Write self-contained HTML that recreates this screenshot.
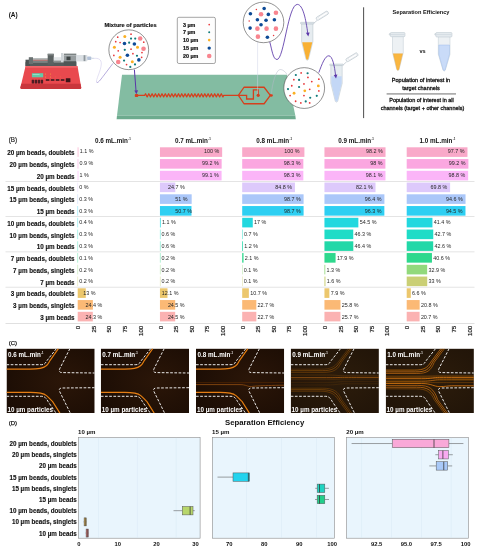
<!DOCTYPE html><html><head><meta charset="utf-8"><title>Figure</title>
<style>html,body{margin:0;padding:0;background:#fff;}body{width:480px;height:550px;overflow:hidden;}svg{display:block;font-family:"Liberation Sans", Arial, sans-serif;}</style></head><body>
<svg width="480" height="550" viewBox="0 0 480 550">
<rect width="480" height="550" fill="#fff"/>
<g id="panelA">
<text x="8.70" y="16.70" font-size="6.5" font-weight="bold" text-anchor="start" fill="#111" >(A)</text>
<polygon points="122.0,74.8 287,74.8 295.3,115.5 117,115.5" fill="#83bca2"/>
<polygon points="117,115.5 295.3,115.5 295.8,119.3 116.6,119.3" fill="#6dab8e"/>
<path d="M136.2,95.3 L144.70,95.3 L145.52,93.7 L147.17,96.9 L148.82,93.7 L150.46,96.9 L152.11,93.7 L153.76,96.9 L155.40,93.7 L157.05,96.9 L158.70,93.7 L160.35,96.9 L161.99,93.7 L163.64,96.9 L165.29,93.7 L166.93,96.9 L168.58,93.7 L170.23,96.9 L171.87,93.7 L173.52,96.9 L175.17,93.7 L176.81,96.9 L178.46,93.7 L180.11,96.9 L181.75,93.7 L183.40,96.9 L185.05,93.7 L186.70,96.9 L188.34,93.7 L189.99,96.9 L191.64,93.7 L193.28,96.9 L194.93,93.7 L196.58,96.9 L198.22,93.7 L199.87,96.9 L201.52,93.7 L203.16,96.9 L204.81,93.7 L206.46,96.9 L208.10,93.7 L209.75,96.9 L211.40,93.7 L213.05,96.9 L214.69,93.7 L216.34,96.9 L217.99,93.7 L219.63,96.9 L221.28,93.7 L222.93,96.9 L223.75,95.3 L238.4,95.3" fill="none" stroke="#d63f1c" stroke-width="1.25" stroke-linejoin="round"/>
<rect x="134.8" y="94.1" width="3.4" height="3" rx="0.8" fill="#d63f1c"/>
<polygon points="238.4,95.3 244,87.25 264.1,87.25 270.3,95.3 264.1,103.75 244,103.75" fill="none" stroke="#d63f1c" stroke-width="1.3" stroke-linejoin="round"/>
<path d="M238.4,95.3 H246.6 V99 H253.4 V89.8 H258.2 V95.3" fill="none" stroke="#d63f1c" stroke-width="1.3"/>
<circle cx="258.2" cy="95.3" r="1.6" fill="#d63f1c"/><circle cx="271.2" cy="95.3" r="1.5" fill="#d63f1c"/>
<g id="pump">
<path d="M26.6,65.8 H76.4 Q77.4,65.8 77.6,66.8 L81.2,87.6 Q81.4,88.9 80.2,88.9 H21.4 Q20.2,88.9 20.4,87.6 L25.4,66.8 Q25.7,65.8 26.6,65.8 Z" fill="#e9494e"/>
<path d="M21.3,83.8 H80.5 L81.2,87.6 Q81.4,88.9 80.2,88.9 H21.4 Q20.2,88.9 20.4,87.6 Z" fill="#c9363c"/>
<path d="M26.6,65.8 H76.4 Q77.4,65.8 77.6,66.8 L77.8,67.8 H25.2 L25.4,66.8 Q25.7,65.8 26.6,65.8 Z" fill="#f0666a"/>
<rect x="25.5" y="62.2" width="50.8" height="3.8" fill="#555c5c"/>
<rect x="25.5" y="59.7" width="4.4" height="6.3" fill="#4c5353"/>
<rect x="28.8" y="57.2" width="4.2" height="6.8" fill="#6a7171"/>
<rect x="33" y="58.3" width="15" height="1.5" fill="#9aa2a2"/>
<rect x="33" y="59.8" width="15" height="1.1" fill="#b06a66"/>
<rect x="33" y="60.9" width="15" height="1.4" fill="#7a8282"/>
<rect x="47.7" y="53.8" width="6.1" height="11" fill="#5b6262"/>
<rect x="47.7" y="53.8" width="6.1" height="1.6" fill="#7f8686"/>
<rect x="53.8" y="57.2" width="9.2" height="3.3" fill="#e3e7e9"/>
<rect x="53.8" y="60.5" width="10" height="1.7" fill="#8a9191"/>
<rect x="63.8" y="55.5" width="12.5" height="10" fill="#4f5656"/>
<rect x="63.8" y="53.6" width="12.5" height="2.4" fill="#7c8383"/>
<rect x="61" y="53" width="2.3" height="9.2" fill="#cfd5d8"/>
<rect x="63.3" y="55" width="24" height="6.3" rx="0.8" fill="#d3d9dd" opacity="0.55"/>
<rect x="76.3" y="55" width="11" height="6.3" rx="0.8" fill="#dbe0e4"/>
<rect x="83.6" y="55.2" width="1.8" height="5.9" fill="#8f979c"/>
<rect x="66.5" y="56.6" width="4" height="3.6" fill="#3d4444"/>
<rect x="87.2" y="56.4" width="4.1" height="3.7" rx="0.8" fill="#b3c2d8"/>
<rect x="91.3" y="57.8" width="2.6" height="0.9" fill="#c6d0df"/>
<rect x="31.9" y="73.2" width="11.3" height="4.1" fill="#63c9a8"/>
<rect x="32.6" y="74" width="7" height="1" fill="#8fe0c4"/>
<rect x="31.70" y="79.8" width="2.4" height="3.6" rx="0.3" fill="#4e1d22"/>
<rect x="34.70" y="79.8" width="2.4" height="3.6" rx="0.3" fill="#4e1d22"/>
<rect x="37.70" y="79.8" width="2.4" height="3.6" rx="0.3" fill="#4e1d22"/>
<rect x="40.70" y="79.8" width="2.4" height="3.6" rx="0.3" fill="#4e1d22"/>
<rect x="45.80" y="78.9" width="3.6" height="2.2" rx="0.3" fill="#5a2328"/>
<rect x="50.80" y="78.9" width="3.6" height="2.2" rx="0.3" fill="#5a2328"/>
<rect x="55.80" y="78.9" width="3.6" height="2.2" rx="0.3" fill="#5a2328"/>
<rect x="60.80" y="78.9" width="3.6" height="2.2" rx="0.3" fill="#5a2328"/>
<rect x="65.8" y="78.2" width="4.6" height="4" rx="0.3" fill="#3e1519"/>
<circle cx="45.4" cy="74" r="0.5" fill="#f7a23e"/>
<circle cx="45.4" cy="76.9" r="0.5" fill="#f7a23e"/>
<circle cx="50.6" cy="74" r="0.5" fill="#f7a23e"/>
<circle cx="50.6" cy="76.9" r="0.5" fill="#f7a23e"/>
<circle cx="55.8" cy="76.9" r="0.4" fill="#f7803e"/>
<circle cx="60.8" cy="76.9" r="0.4" fill="#f7803e"/>
</g>
<path d="M93.8,58.4 C98,58 101.5,59 101.3,64 C101,71 95.5,80 96.6,82.2" fill="none" stroke="#cdc8ea" stroke-width="0.55"/>
<path d="M96.6,82.2 C97.5,83.6 100,80.5 103,76.5 L113,63.3" fill="none" stroke="#8675c6" stroke-width="0.6"/>
<path d="M257.6,42 V94" stroke="#cfd3e6" stroke-width="0.5" fill="none"/>
<path d="M271.4,94.5 C272,84 276,70 280,69.5 C283,69.3 285.5,72 287,74.5" stroke="#b4b8c8" stroke-width="0.5" fill="none"/>
<circle cx="128.75" cy="49.75" r="19.9" fill="#fff" stroke="#4a4a4a" stroke-width="0.6"/>
<circle cx="131.04" cy="34.17" r="0.85" fill="#e8373a"/>
<circle cx="117.71" cy="37.19" r="0.85" fill="#e8373a"/>
<circle cx="115.73" cy="41.67" r="0.85" fill="#e8373a"/>
<circle cx="120.10" cy="42.50" r="0.85" fill="#e8373a"/>
<circle cx="143.75" cy="42.19" r="0.85" fill="#e8373a"/>
<circle cx="118.23" cy="50.83" r="0.85" fill="#e8373a"/>
<circle cx="131.04" cy="49.17" r="0.85" fill="#e8373a"/>
<circle cx="141.98" cy="52.60" r="0.85" fill="#e8373a"/>
<circle cx="132.92" cy="53.65" r="0.85" fill="#e8373a"/>
<circle cx="113.85" cy="55.42" r="0.85" fill="#e8373a"/>
<circle cx="141.67" cy="57.29" r="0.85" fill="#e8373a"/>
<circle cx="126.56" cy="64.58" r="0.85" fill="#e8373a"/>
<circle cx="124.79" cy="36.46" r="1.5" fill="#fbb024"/>
<circle cx="137.50" cy="47.19" r="1.5" fill="#fbb024"/>
<circle cx="114.38" cy="47.19" r="1.5" fill="#fbb024"/>
<circle cx="120.10" cy="57.29" r="1.5" fill="#fbb024"/>
<circle cx="132.29" cy="61.67" r="1.5" fill="#fbb024"/>
<circle cx="131.04" cy="38.54" r="1.1" fill="#117a7a"/>
<circle cx="135.21" cy="38.54" r="1.1" fill="#117a7a"/>
<circle cx="129.17" cy="42.71" r="1.1" fill="#117a7a"/>
<circle cx="124.79" cy="49.79" r="1.1" fill="#117a7a"/>
<circle cx="136.98" cy="55.73" r="1.1" fill="#117a7a"/>
<circle cx="124.06" cy="60.62" r="1.1" fill="#117a7a"/>
<circle cx="135.00" cy="64.38" r="1.1" fill="#117a7a"/>
<circle cx="130.31" cy="66.88" r="1.1" fill="#117a7a"/>
<circle cx="124.48" cy="43.44" r="1.8" fill="#0d4a96"/>
<circle cx="134.38" cy="43.96" r="1.8" fill="#0d4a96"/>
<circle cx="127.40" cy="55.21" r="1.8" fill="#0d4a96"/>
<circle cx="138.85" cy="59.90" r="1.8" fill="#0d4a96"/>
<circle cx="140.21" cy="38.54" r="2.3" fill="#f8858f"/>
<circle cx="143.54" cy="48.75" r="2.3" fill="#f8858f"/>
<circle cx="118.23" cy="61.98" r="2.3" fill="#f8858f"/>
<circle cx="263.5" cy="22.4" r="20.3" fill="#fff" stroke="#4a4a4a" stroke-width="0.6"/>
<circle cx="264.17" cy="8.54" r="1.8" fill="#0d4a96"/>
<circle cx="250.42" cy="13.75" r="1.8" fill="#0d4a96"/>
<circle cx="268.33" cy="14.38" r="1.8" fill="#0d4a96"/>
<circle cx="257.40" cy="19.79" r="1.8" fill="#0d4a96"/>
<circle cx="266.04" cy="20.31" r="1.8" fill="#0d4a96"/>
<circle cx="274.38" cy="19.79" r="1.8" fill="#0d4a96"/>
<circle cx="261.04" cy="24.69" r="1.8" fill="#0d4a96"/>
<circle cx="250.10" cy="28.12" r="1.8" fill="#0d4a96"/>
<circle cx="267.40" cy="37.19" r="1.8" fill="#0d4a96"/>
<circle cx="261.04" cy="14.27" r="2.3" fill="#f8858f"/>
<circle cx="275.94" cy="12.71" r="2.3" fill="#f8858f"/>
<circle cx="257.40" cy="28.65" r="2.3" fill="#f8858f"/>
<circle cx="266.56" cy="28.65" r="2.3" fill="#f8858f"/>
<circle cx="275.94" cy="28.65" r="2.3" fill="#f8858f"/>
<circle cx="257.92" cy="36.67" r="2.3" fill="#f8858f"/>
<circle cx="256.35" cy="9.58" r="0.75" fill="#e8373a"/>
<circle cx="249.17" cy="21.04" r="0.75" fill="#e8373a"/>
<circle cx="273.54" cy="35.62" r="0.75" fill="#e8373a"/>
<circle cx="304.2" cy="88.05" r="20.4" fill="#fff" stroke="#4a4a4a" stroke-width="0.6"/>
<circle cx="301.15" cy="72.94" r="0.9" fill="#e8373a"/>
<circle cx="307.92" cy="77.42" r="0.9" fill="#e8373a"/>
<circle cx="293.85" cy="79.71" r="0.9" fill="#e8373a"/>
<circle cx="318.85" cy="79.19" r="0.9" fill="#e8373a"/>
<circle cx="311.77" cy="81.58" r="0.9" fill="#e8373a"/>
<circle cx="303.96" cy="83.88" r="0.9" fill="#e8373a"/>
<circle cx="291.77" cy="85.75" r="0.9" fill="#e8373a"/>
<circle cx="309.69" cy="89.29" r="0.9" fill="#e8373a"/>
<circle cx="318.85" cy="90.96" r="0.9" fill="#e8373a"/>
<circle cx="290.10" cy="95.54" r="0.9" fill="#e8373a"/>
<circle cx="303.96" cy="95.54" r="0.9" fill="#e8373a"/>
<circle cx="295.62" cy="101.27" r="0.9" fill="#e8373a"/>
<circle cx="300.83" cy="102.94" r="0.9" fill="#e8373a"/>
<circle cx="309.69" cy="102.94" r="0.9" fill="#e8373a"/>
<circle cx="295.83" cy="75.02" r="1.1" fill="#117a7a"/>
<circle cx="307.60" cy="73.25" r="1.1" fill="#117a7a"/>
<circle cx="299.06" cy="79.92" r="1.1" fill="#117a7a"/>
<circle cx="299.06" cy="87.00" r="1.1" fill="#117a7a"/>
<circle cx="288.02" cy="89.08" r="1.1" fill="#117a7a"/>
<circle cx="316.77" cy="95.85" r="1.1" fill="#117a7a"/>
<circle cx="310.21" cy="97.73" r="1.1" fill="#117a7a"/>
<circle cx="305.73" cy="101.38" r="1.1" fill="#117a7a"/>
<circle cx="318.33" cy="85.96" r="1.4" fill="#fbb024"/>
<circle cx="304.79" cy="90.85" r="1.4" fill="#fbb024"/>
<circle cx="294.06" cy="93.25" r="1.4" fill="#fbb024"/>
<text x="130.60" y="26.60" font-size="5.7" font-weight="bold" text-anchor="middle" fill="#111" stroke="#111" stroke-width="0.15">Mixture of particles</text>
<path d="M134.4,69.6 L136.1,92" stroke="#5a36a8" stroke-width="1.0" fill="none"/>
<polygon points="134.3,90.6 138.1,90.3 136.4,94.2" fill="#5a36a8"/>
<rect x="177.3" y="17.3" width="38.1" height="46.2" rx="1.6" fill="#fdfdfd" stroke="#808080" stroke-width="0.7"/>
<text x="183.00" y="26.50" font-size="5.4" font-weight="bold" text-anchor="start" fill="#111" stroke="#111" stroke-width="0.2">3 µm</text>
<circle cx="209.2" cy="24.6" r="0.85" fill="#e8373a"/>
<text x="183.00" y="34.20" font-size="5.4" font-weight="bold" text-anchor="start" fill="#111" stroke="#111" stroke-width="0.2">7 µm</text>
<circle cx="209.2" cy="32.3" r="1.0" fill="#117a7a"/>
<text x="183.00" y="42.00" font-size="5.4" font-weight="bold" text-anchor="start" fill="#111" stroke="#111" stroke-width="0.2">10 µm</text>
<circle cx="209.2" cy="40.1" r="1.3" fill="#fbb024"/>
<text x="183.00" y="50.00" font-size="5.4" font-weight="bold" text-anchor="start" fill="#111" stroke="#111" stroke-width="0.2">15 µm</text>
<circle cx="209.2" cy="48.1" r="1.7" fill="#0d4a96"/>
<text x="183.00" y="57.90" font-size="5.4" font-weight="bold" text-anchor="start" fill="#111" stroke="#111" stroke-width="0.2">20 µm</text>
<circle cx="209.2" cy="56.0" r="2.3" fill="#f8858f"/>
<path d="M301.60,23.80 L301.60,41.60 L306.05,59.50 Q307.25,61.10 308.45,59.50 L312.90,41.60 L312.90,23.80 Z" fill="#e6ecf0" stroke="#b4c0c9" stroke-width="0.5"/>
<path d="M302.23,42.20 L306.25,59.10 Q307.25,60.50 308.25,59.10 L312.27,42.20 Z" fill="#f8b033"/>
<rect x="300.50" y="22.30" width="13.50" height="1.6" rx="0.5" fill="#dfe6ea" stroke="#aab6bf" stroke-width="0.4"/>
<path d="M314,23 L317,20.5" stroke="#aab6bf" stroke-width="0.6" fill="none"/>
<g transform="translate(316.6,19.3) rotate(-32)"><rect x="0" y="-1.7" width="13.5" height="3.4" rx="1.2" fill="#f4f6f8" stroke="#aab6bf" stroke-width="0.5"/><rect x="2.5" y="-1" width="10" height="2" rx="0.9" fill="#fff" stroke="#c4ccd2" stroke-width="0.3"/></g>
<path d="M330.80,65.50 L330.80,83.20 L335.30,101.30 Q336.50,102.90 337.70,101.30 L342.20,83.20 L342.20,65.50 Z" fill="#e6ecf0" stroke="#b4c0c9" stroke-width="0.5"/>
<path d="M331.30,76.20 L331.30,83.20 L335.50,100.90 Q336.50,102.30 337.50,100.90 L341.70,83.20 L341.70,76.20 Z" fill="#c3d7f6"/>
<rect x="329.70" y="64.00" width="13.60" height="1.6" rx="0.5" fill="#dfe6ea" stroke="#aab6bf" stroke-width="0.4"/>
<path d="M343.3,64.8 L346.8,61.6" stroke="#aab6bf" stroke-width="0.6" fill="none"/>
<g transform="translate(346.4,60.6) rotate(-31)"><rect x="0" y="-1.7" width="13" height="3.4" rx="1.2" fill="#f4f6f8" stroke="#aab6bf" stroke-width="0.5"/><rect x="2.5" y="-1" width="9.6" height="2" rx="0.9" fill="#fff" stroke="#c4ccd2" stroke-width="0.3"/></g>
<path d="M269.8,42 C272,50 273,59.5 277,59.5 C284,59.5 288,4.4 297.3,4.4 C303,4.4 306,20 307.8,33.5" fill="none" stroke="#5a36a8" stroke-width="0.85"/>
<polygon points="305.9,32.8 309.6,32.4 308.3,36.4" fill="#5a36a8"/>
<path d="M318.8,72.6 C322,64 325,55.8 328.8,55.8 C332.5,55.8 334.5,66 335.6,75.5" fill="none" stroke="#5a36a8" stroke-width="0.85"/>
<polygon points="333.7,74.9 337.4,74.5 336,78.5" fill="#5a36a8"/>
<rect x="363.2" y="7.3" width="0.9" height="110.8" fill="#3a3a3a"/>
<text x="421.00" y="14.20" font-size="5.6" font-weight="bold" text-anchor="middle" fill="#111" >Separation Efficiency</text>
<path d="M392.50,36.20 L392.50,52.50 L396.80,69.80 Q397.90,71.40 399.00,69.80 L403.30,52.50 L403.30,36.20 Z" fill="#edf1f4" stroke="#bcc8d1" stroke-width="0.5"/>
<path d="M393.26,53.70 L397.00,69.50 Q397.90,70.80 398.80,69.50 L402.54,53.70 Z" fill="#f9b640" stroke="#eaa233" stroke-width="0.4"/>
<rect x="389.20" y="33.50" width="2" height="1.6" rx="0.5" fill="#dfe6ea" stroke="#b4c0c9" stroke-width="0.35"/>
<rect x="390.30" y="32.50" width="14.70" height="4.20" rx="1" fill="#e4eaee" stroke="#b4c0c9" stroke-width="0.45"/>
<rect x="390.90" y="34.10" width="13.50" height="0.5" fill="#c9d3da"/>
<path d="M438.30,36.50 L438.30,54.20 L443.05,70.30 Q444.15,71.90 445.25,70.30 L450.00,54.20 L450.00,36.50 Z" fill="#edf1f4" stroke="#bcc8d1" stroke-width="0.5"/>
<path d="M438.80,45.00 L438.80,54.20 L443.25,70.00 Q444.15,71.30 445.05,70.00 L449.50,54.20 L449.50,45.00 Z" fill="#c9dbf8" stroke="#93b2e8" stroke-width="0.4"/>
<rect x="434.70" y="33.50" width="2" height="1.6" rx="0.5" fill="#dfe6ea" stroke="#b4c0c9" stroke-width="0.35"/>
<rect x="435.80" y="32.50" width="16.20" height="4.50" rx="1" fill="#e4eaee" stroke="#b4c0c9" stroke-width="0.45"/>
<rect x="436.40" y="34.10" width="15.00" height="0.5" fill="#c9d3da"/>
<text x="422.50" y="53.20" font-size="5.6" font-weight="bold" text-anchor="middle" fill="#111" >vs</text>
<text x="421.00" y="82.20" font-size="5.6" font-weight="normal" text-anchor="middle" fill="#111" stroke="#111" stroke-width="0.28">Population of interest in</text>
<text x="421.00" y="90.00" font-size="5.5" font-weight="normal" text-anchor="middle" fill="#111" stroke="#111" stroke-width="0.28">target channels</text>
<rect x="386.6" y="93.6" width="69.4" height="0.7" fill="#333"/>
<text x="421.50" y="102.40" font-size="5.5" font-weight="normal" text-anchor="middle" fill="#111" stroke="#111" stroke-width="0.28">Population of interest in all</text>
<text x="422.50" y="109.50" font-size="5.5" font-weight="normal" text-anchor="middle" fill="#111" stroke="#111" stroke-width="0.28">channels (target + other channels)</text>
</g>
<g id="panelB">
<text x="8.70" y="142.30" font-size="6.3" font-weight="normal" text-anchor="start" fill="#1a1a1a" stroke="#1a1a1a" stroke-width="0.15">(B)</text>
<rect x="5.5" y="181.10" width="469" height="0.6" fill="#d2d2d2"/>
<rect x="5.5" y="216.35" width="469" height="0.6" fill="#d2d2d2"/>
<rect x="5.5" y="251.60" width="469" height="0.6" fill="#d2d2d2"/>
<rect x="5.5" y="286.85" width="469" height="0.6" fill="#d2d2d2"/>
<rect x="5.5" y="323.2" width="469" height="0.6" fill="#cccccc"/>
<text x="74.50" y="155.40" font-size="6.28" font-weight="bold" text-anchor="end" fill="#111" stroke="#111" stroke-width="0.12">20 µm beads, doublets</text>
<text x="74.50" y="167.15" font-size="6.28" font-weight="bold" text-anchor="end" fill="#111" stroke="#111" stroke-width="0.12">20 µm beads, singlets</text>
<text x="74.50" y="178.90" font-size="6.28" font-weight="bold" text-anchor="end" fill="#111" stroke="#111" stroke-width="0.12">20 µm beads</text>
<text x="74.50" y="190.65" font-size="6.28" font-weight="bold" text-anchor="end" fill="#111" stroke="#111" stroke-width="0.12">15 µm beads, doublets</text>
<text x="74.50" y="202.40" font-size="6.28" font-weight="bold" text-anchor="end" fill="#111" stroke="#111" stroke-width="0.12">15 µm beads, singlets</text>
<text x="74.50" y="214.15" font-size="6.28" font-weight="bold" text-anchor="end" fill="#111" stroke="#111" stroke-width="0.12">15 µm beads</text>
<text x="74.50" y="225.90" font-size="6.28" font-weight="bold" text-anchor="end" fill="#111" stroke="#111" stroke-width="0.12">10 µm beads, doublets</text>
<text x="74.50" y="237.65" font-size="6.28" font-weight="bold" text-anchor="end" fill="#111" stroke="#111" stroke-width="0.12">10 µm beads, singlets</text>
<text x="74.50" y="249.40" font-size="6.28" font-weight="bold" text-anchor="end" fill="#111" stroke="#111" stroke-width="0.12">10 µm beads</text>
<text x="74.50" y="261.15" font-size="6.28" font-weight="bold" text-anchor="end" fill="#111" stroke="#111" stroke-width="0.12">7 µm beads, doublets</text>
<text x="74.50" y="272.90" font-size="6.28" font-weight="bold" text-anchor="end" fill="#111" stroke="#111" stroke-width="0.12">7 µm beads, singlets</text>
<text x="74.50" y="284.65" font-size="6.28" font-weight="bold" text-anchor="end" fill="#111" stroke="#111" stroke-width="0.12">7 µm beads</text>
<text x="74.50" y="296.40" font-size="6.28" font-weight="bold" text-anchor="end" fill="#111" stroke="#111" stroke-width="0.12">3 µm beads, doublets</text>
<text x="74.50" y="308.15" font-size="6.28" font-weight="bold" text-anchor="end" fill="#111" stroke="#111" stroke-width="0.12">3 µm beads, singlets</text>
<text x="74.50" y="319.90" font-size="6.28" font-weight="bold" text-anchor="end" fill="#111" stroke="#111" stroke-width="0.12">3 µm beads</text>
<text x="95.00" y="142.60" font-size="6.3" font-weight="bold" text-anchor="start" fill="#111" >0.6 mL.min<tspan font-size="2.8" dy="-2.6" dx="0.3">-1</tspan></text>
<rect x="77.70" y="147.30" width="0.68" height="9.6" fill="#f9a9c9"/>
<text x="79.68" y="153.45" font-size="5.4" font-weight="normal" text-anchor="start" fill="#262626" >1.1 %</text>
<rect x="77.70" y="159.05" width="0.56" height="9.6" fill="#fba7e0"/>
<text x="79.56" y="165.26" font-size="5.4" font-weight="normal" text-anchor="start" fill="#262626" >0.9 %</text>
<rect x="77.70" y="170.80" width="0.62" height="9.6" fill="#fbb5f8"/>
<text x="79.62" y="177.07" font-size="5.4" font-weight="normal" text-anchor="start" fill="#262626" >1 %</text>
<rect x="77.70" y="182.55" width="0.35" height="9.6" fill="#ddc9fb"/>
<text x="79.35" y="188.88" font-size="5.4" font-weight="normal" text-anchor="start" fill="#262626" >0 %</text>
<rect x="77.70" y="194.30" width="0.35" height="9.6" fill="#aac7f9"/>
<text x="79.35" y="200.69" font-size="5.4" font-weight="normal" text-anchor="start" fill="#262626" >0.3 %</text>
<rect x="77.70" y="206.05" width="0.35" height="9.6" fill="#2ecff2"/>
<text x="79.35" y="212.50" font-size="5.4" font-weight="normal" text-anchor="start" fill="#262626" >0.3 %</text>
<rect x="77.70" y="217.80" width="0.35" height="9.6" fill="#22d8df"/>
<text x="79.35" y="224.31" font-size="5.4" font-weight="normal" text-anchor="start" fill="#262626" >0.4 %</text>
<rect x="77.70" y="229.55" width="0.35" height="9.6" fill="#1fdcc7"/>
<text x="79.35" y="236.12" font-size="5.4" font-weight="normal" text-anchor="start" fill="#262626" >0.3 %</text>
<rect x="77.70" y="241.30" width="0.35" height="9.6" fill="#21d8a8"/>
<text x="79.35" y="247.93" font-size="5.4" font-weight="normal" text-anchor="start" fill="#262626" >0.3 %</text>
<rect x="77.70" y="253.05" width="0.35" height="9.6" fill="#2ed88d"/>
<text x="79.35" y="259.74" font-size="5.4" font-weight="normal" text-anchor="start" fill="#262626" >0.1 %</text>
<rect x="77.70" y="264.80" width="0.35" height="9.6" fill="#92d97c"/>
<text x="79.35" y="271.55" font-size="5.4" font-weight="normal" text-anchor="start" fill="#262626" >0.2 %</text>
<rect x="77.70" y="276.55" width="0.35" height="9.6" fill="#cacf75"/>
<text x="79.35" y="283.36" font-size="5.4" font-weight="normal" text-anchor="start" fill="#262626" >0.2 %</text>
<rect x="77.70" y="288.30" width="8.09" height="9.6" fill="#ecc76d"/>
<text x="83.19" y="295.17" font-size="5.4" font-weight="normal" text-anchor="start" fill="#262626" >13 %</text>
<rect x="77.70" y="300.05" width="15.18" height="9.6" fill="#fbb975"/>
<text x="85.58" y="306.98" font-size="5.4" font-weight="normal" text-anchor="start" fill="#262626" >24.4 %</text>
<rect x="77.70" y="311.80" width="15.11" height="9.6" fill="#fbb2b2"/>
<text x="85.51" y="318.79" font-size="5.4" font-weight="normal" text-anchor="start" fill="#262626" >24.3 %</text>
<text transform="translate(80.30,325.7) rotate(-90)" font-size="6.2" text-anchor="end" fill="#222" stroke="#222" stroke-width="0.2">0</text>
<text transform="translate(95.85,325.7) rotate(-90)" font-size="6.2" text-anchor="end" fill="#222" stroke="#222" stroke-width="0.2">25</text>
<text transform="translate(111.40,325.7) rotate(-90)" font-size="6.2" text-anchor="end" fill="#222" stroke="#222" stroke-width="0.2">50</text>
<text transform="translate(126.95,325.7) rotate(-90)" font-size="6.2" text-anchor="end" fill="#222" stroke="#222" stroke-width="0.2">75</text>
<text transform="translate(142.50,325.7) rotate(-90)" font-size="6.2" text-anchor="end" fill="#222" stroke="#222" stroke-width="0.2">100</text>
<text x="175.00" y="142.60" font-size="6.3" font-weight="bold" text-anchor="start" fill="#111" >0.7 mL.min<tspan font-size="2.8" dy="-2.6" dx="0.3">-1</tspan></text>
<rect x="159.95" y="147.30" width="62.20" height="9.6" fill="#f9a9c9"/>
<text x="219.35" y="153.45" font-size="5.4" font-weight="normal" text-anchor="end" fill="#262626" >100 %</text>
<rect x="159.95" y="159.05" width="61.70" height="9.6" fill="#fba7e0"/>
<text x="218.85" y="165.26" font-size="5.4" font-weight="normal" text-anchor="end" fill="#262626" >99.2 %</text>
<rect x="159.95" y="170.80" width="61.64" height="9.6" fill="#fbb5f8"/>
<text x="218.79" y="177.07" font-size="5.4" font-weight="normal" text-anchor="end" fill="#262626" >99.1 %</text>
<rect x="159.95" y="182.55" width="15.36" height="9.6" fill="#ddc9fb"/>
<text x="168.01" y="188.88" font-size="5.4" font-weight="normal" text-anchor="start" fill="#262626" >24.7 %</text>
<rect x="159.95" y="194.30" width="31.72" height="9.6" fill="#aac7f9"/>
<text x="175.25" y="200.69" font-size="5.4" font-weight="normal" text-anchor="start" fill="#262626" >51 %</text>
<rect x="159.95" y="206.05" width="31.54" height="9.6" fill="#2ecff2"/>
<text x="175.25" y="212.50" font-size="5.4" font-weight="normal" text-anchor="start" fill="#262626" >50.7 %</text>
<rect x="159.95" y="217.80" width="0.68" height="9.6" fill="#22d8df"/>
<text x="161.93" y="224.31" font-size="5.4" font-weight="normal" text-anchor="start" fill="#262626" >1.1 %</text>
<rect x="159.95" y="229.55" width="0.37" height="9.6" fill="#1fdcc7"/>
<text x="161.62" y="236.12" font-size="5.4" font-weight="normal" text-anchor="start" fill="#262626" >0.6 %</text>
<rect x="159.95" y="241.30" width="0.37" height="9.6" fill="#21d8a8"/>
<text x="161.62" y="247.93" font-size="5.4" font-weight="normal" text-anchor="start" fill="#262626" >0.6 %</text>
<rect x="159.95" y="253.05" width="0.35" height="9.6" fill="#2ed88d"/>
<text x="161.60" y="259.74" font-size="5.4" font-weight="normal" text-anchor="start" fill="#262626" >0.2 %</text>
<rect x="159.95" y="264.80" width="0.35" height="9.6" fill="#92d97c"/>
<text x="161.60" y="271.55" font-size="5.4" font-weight="normal" text-anchor="start" fill="#262626" >0.2 %</text>
<rect x="159.95" y="276.55" width="0.35" height="9.6" fill="#cacf75"/>
<text x="161.60" y="283.36" font-size="5.4" font-weight="normal" text-anchor="start" fill="#262626" >0.2 %</text>
<rect x="159.95" y="288.30" width="7.53" height="9.6" fill="#ecc76d"/>
<text x="161.85" y="295.17" font-size="5.4" font-weight="normal" text-anchor="start" fill="#262626" >12.1 %</text>
<rect x="159.95" y="300.05" width="15.24" height="9.6" fill="#fbb975"/>
<text x="167.89" y="306.98" font-size="5.4" font-weight="normal" text-anchor="start" fill="#262626" >24.5 %</text>
<rect x="159.95" y="311.80" width="15.24" height="9.6" fill="#fbb2b2"/>
<text x="167.89" y="318.79" font-size="5.4" font-weight="normal" text-anchor="start" fill="#262626" >24.5 %</text>
<text transform="translate(162.55,325.7) rotate(-90)" font-size="6.2" text-anchor="end" fill="#222" stroke="#222" stroke-width="0.2">0</text>
<text transform="translate(178.10,325.7) rotate(-90)" font-size="6.2" text-anchor="end" fill="#222" stroke="#222" stroke-width="0.2">25</text>
<text transform="translate(193.65,325.7) rotate(-90)" font-size="6.2" text-anchor="end" fill="#222" stroke="#222" stroke-width="0.2">50</text>
<text transform="translate(209.20,325.7) rotate(-90)" font-size="6.2" text-anchor="end" fill="#222" stroke="#222" stroke-width="0.2">75</text>
<text transform="translate(224.75,325.7) rotate(-90)" font-size="6.2" text-anchor="end" fill="#222" stroke="#222" stroke-width="0.2">100</text>
<text x="256.30" y="142.60" font-size="6.3" font-weight="bold" text-anchor="start" fill="#111" >0.8 mL.min<tspan font-size="2.8" dy="-2.6" dx="0.3">-1</tspan></text>
<rect x="242.20" y="147.30" width="62.20" height="9.6" fill="#f9a9c9"/>
<text x="299.60" y="153.45" font-size="5.4" font-weight="normal" text-anchor="end" fill="#262626" >100 %</text>
<rect x="242.20" y="159.05" width="61.14" height="9.6" fill="#fba7e0"/>
<text x="300.54" y="165.26" font-size="5.4" font-weight="normal" text-anchor="end" fill="#262626" >98.3 %</text>
<rect x="242.20" y="170.80" width="61.14" height="9.6" fill="#fbb5f8"/>
<text x="300.54" y="177.07" font-size="5.4" font-weight="normal" text-anchor="end" fill="#262626" >98.3 %</text>
<rect x="242.20" y="182.55" width="52.75" height="9.6" fill="#ddc9fb"/>
<text x="292.15" y="188.88" font-size="5.4" font-weight="normal" text-anchor="end" fill="#262626" >84.8 %</text>
<rect x="242.20" y="194.30" width="61.39" height="9.6" fill="#aac7f9"/>
<text x="300.79" y="200.69" font-size="5.4" font-weight="normal" text-anchor="end" fill="#262626" >98.7 %</text>
<rect x="242.20" y="206.05" width="61.39" height="9.6" fill="#2ecff2"/>
<text x="300.79" y="212.50" font-size="5.4" font-weight="normal" text-anchor="end" fill="#262626" >98.7 %</text>
<rect x="242.20" y="217.80" width="10.57" height="9.6" fill="#22d8df"/>
<text x="254.07" y="224.31" font-size="5.4" font-weight="normal" text-anchor="start" fill="#262626" >17 %</text>
<rect x="242.20" y="229.55" width="0.44" height="9.6" fill="#1fdcc7"/>
<text x="243.94" y="236.12" font-size="5.4" font-weight="normal" text-anchor="start" fill="#262626" >0.7 %</text>
<rect x="242.20" y="241.30" width="0.75" height="9.6" fill="#21d8a8"/>
<text x="244.25" y="247.93" font-size="5.4" font-weight="normal" text-anchor="start" fill="#262626" >1.2 %</text>
<rect x="242.20" y="253.05" width="1.31" height="9.6" fill="#2ed88d"/>
<text x="244.81" y="259.74" font-size="5.4" font-weight="normal" text-anchor="start" fill="#262626" >2.1 %</text>
<rect x="242.20" y="264.80" width="0.35" height="9.6" fill="#92d97c"/>
<text x="243.85" y="271.55" font-size="5.4" font-weight="normal" text-anchor="start" fill="#262626" >0.1 %</text>
<rect x="242.20" y="276.55" width="0.35" height="9.6" fill="#cacf75"/>
<text x="243.85" y="283.36" font-size="5.4" font-weight="normal" text-anchor="start" fill="#262626" >0.1 %</text>
<rect x="242.20" y="288.30" width="6.66" height="9.6" fill="#ecc76d"/>
<text x="250.16" y="295.17" font-size="5.4" font-weight="normal" text-anchor="start" fill="#262626" >10.7 %</text>
<rect x="242.20" y="300.05" width="14.12" height="9.6" fill="#fbb975"/>
<text x="257.62" y="306.98" font-size="5.4" font-weight="normal" text-anchor="start" fill="#262626" >22.7 %</text>
<rect x="242.20" y="311.80" width="14.12" height="9.6" fill="#fbb2b2"/>
<text x="257.62" y="318.79" font-size="5.4" font-weight="normal" text-anchor="start" fill="#262626" >22.7 %</text>
<text transform="translate(244.80,325.7) rotate(-90)" font-size="6.2" text-anchor="end" fill="#222" stroke="#222" stroke-width="0.2">0</text>
<text transform="translate(260.35,325.7) rotate(-90)" font-size="6.2" text-anchor="end" fill="#222" stroke="#222" stroke-width="0.2">25</text>
<text transform="translate(275.90,325.7) rotate(-90)" font-size="6.2" text-anchor="end" fill="#222" stroke="#222" stroke-width="0.2">50</text>
<text transform="translate(291.45,325.7) rotate(-90)" font-size="6.2" text-anchor="end" fill="#222" stroke="#222" stroke-width="0.2">75</text>
<text transform="translate(307.00,325.7) rotate(-90)" font-size="6.2" text-anchor="end" fill="#222" stroke="#222" stroke-width="0.2">100</text>
<text x="338.20" y="142.60" font-size="6.3" font-weight="bold" text-anchor="start" fill="#111" >0.9 mL.min<tspan font-size="2.8" dy="-2.6" dx="0.3">-1</tspan></text>
<rect x="324.45" y="147.30" width="61.08" height="9.6" fill="#f9a9c9"/>
<text x="382.73" y="153.45" font-size="5.4" font-weight="normal" text-anchor="end" fill="#262626" >98.2 %</text>
<rect x="324.45" y="159.05" width="60.96" height="9.6" fill="#fba7e0"/>
<text x="382.61" y="165.26" font-size="5.4" font-weight="normal" text-anchor="end" fill="#262626" >98 %</text>
<rect x="324.45" y="170.80" width="61.02" height="9.6" fill="#fbb5f8"/>
<text x="382.67" y="177.07" font-size="5.4" font-weight="normal" text-anchor="end" fill="#262626" >98.1 %</text>
<rect x="324.45" y="182.55" width="51.07" height="9.6" fill="#ddc9fb"/>
<text x="372.72" y="188.88" font-size="5.4" font-weight="normal" text-anchor="end" fill="#262626" >82.1 %</text>
<rect x="324.45" y="194.30" width="59.96" height="9.6" fill="#aac7f9"/>
<text x="381.61" y="200.69" font-size="5.4" font-weight="normal" text-anchor="end" fill="#262626" >96.4 %</text>
<rect x="324.45" y="206.05" width="59.90" height="9.6" fill="#2ecff2"/>
<text x="381.55" y="212.50" font-size="5.4" font-weight="normal" text-anchor="end" fill="#262626" >96.3 %</text>
<rect x="324.45" y="217.80" width="33.90" height="9.6" fill="#22d8df"/>
<text x="359.65" y="224.31" font-size="5.4" font-weight="normal" text-anchor="start" fill="#262626" >54.5 %</text>
<rect x="324.45" y="229.55" width="28.80" height="9.6" fill="#1fdcc7"/>
<text x="354.55" y="236.12" font-size="5.4" font-weight="normal" text-anchor="start" fill="#262626" >46.3 %</text>
<rect x="324.45" y="241.30" width="28.86" height="9.6" fill="#21d8a8"/>
<text x="354.61" y="247.93" font-size="5.4" font-weight="normal" text-anchor="start" fill="#262626" >46.4 %</text>
<rect x="324.45" y="253.05" width="11.13" height="9.6" fill="#2ed88d"/>
<text x="336.88" y="259.74" font-size="5.4" font-weight="normal" text-anchor="start" fill="#262626" >17.9 %</text>
<rect x="324.45" y="264.80" width="0.81" height="9.6" fill="#92d97c"/>
<text x="326.56" y="271.55" font-size="5.4" font-weight="normal" text-anchor="start" fill="#262626" >1.3 %</text>
<rect x="324.45" y="276.55" width="1.00" height="9.6" fill="#cacf75"/>
<text x="326.75" y="283.36" font-size="5.4" font-weight="normal" text-anchor="start" fill="#262626" >1.6 %</text>
<rect x="324.45" y="288.30" width="4.91" height="9.6" fill="#ecc76d"/>
<text x="330.66" y="295.17" font-size="5.4" font-weight="normal" text-anchor="start" fill="#262626" >7.9 %</text>
<rect x="324.45" y="300.05" width="16.05" height="9.6" fill="#fbb975"/>
<text x="341.80" y="306.98" font-size="5.4" font-weight="normal" text-anchor="start" fill="#262626" >25.8 %</text>
<rect x="324.45" y="311.80" width="15.99" height="9.6" fill="#fbb2b2"/>
<text x="341.74" y="318.79" font-size="5.4" font-weight="normal" text-anchor="start" fill="#262626" >25.7 %</text>
<text transform="translate(327.05,325.7) rotate(-90)" font-size="6.2" text-anchor="end" fill="#222" stroke="#222" stroke-width="0.2">0</text>
<text transform="translate(342.60,325.7) rotate(-90)" font-size="6.2" text-anchor="end" fill="#222" stroke="#222" stroke-width="0.2">25</text>
<text transform="translate(358.15,325.7) rotate(-90)" font-size="6.2" text-anchor="end" fill="#222" stroke="#222" stroke-width="0.2">50</text>
<text transform="translate(373.70,325.7) rotate(-90)" font-size="6.2" text-anchor="end" fill="#222" stroke="#222" stroke-width="0.2">75</text>
<text transform="translate(389.25,325.7) rotate(-90)" font-size="6.2" text-anchor="end" fill="#222" stroke="#222" stroke-width="0.2">100</text>
<text x="419.50" y="142.60" font-size="6.3" font-weight="bold" text-anchor="start" fill="#111" >1.0 mL.min<tspan font-size="2.8" dy="-2.6" dx="0.3">-1</tspan></text>
<rect x="406.70" y="147.30" width="60.77" height="9.6" fill="#f9a9c9"/>
<text x="464.67" y="153.45" font-size="5.4" font-weight="normal" text-anchor="end" fill="#262626" >97.7 %</text>
<rect x="406.70" y="159.05" width="61.70" height="9.6" fill="#fba7e0"/>
<text x="465.60" y="165.26" font-size="5.4" font-weight="normal" text-anchor="end" fill="#262626" >99.2 %</text>
<rect x="406.70" y="170.80" width="61.45" height="9.6" fill="#fbb5f8"/>
<text x="465.35" y="177.07" font-size="5.4" font-weight="normal" text-anchor="end" fill="#262626" >98.8 %</text>
<rect x="406.70" y="182.55" width="43.42" height="9.6" fill="#ddc9fb"/>
<text x="447.32" y="188.88" font-size="5.4" font-weight="normal" text-anchor="end" fill="#262626" >69.8 %</text>
<rect x="406.70" y="194.30" width="58.84" height="9.6" fill="#aac7f9"/>
<text x="462.74" y="200.69" font-size="5.4" font-weight="normal" text-anchor="end" fill="#262626" >94.6 %</text>
<rect x="406.70" y="206.05" width="58.78" height="9.6" fill="#2ecff2"/>
<text x="462.68" y="212.50" font-size="5.4" font-weight="normal" text-anchor="end" fill="#262626" >94.5 %</text>
<rect x="406.70" y="217.80" width="25.75" height="9.6" fill="#22d8df"/>
<text x="433.75" y="224.31" font-size="5.4" font-weight="normal" text-anchor="start" fill="#262626" >41.4 %</text>
<rect x="406.70" y="229.55" width="26.56" height="9.6" fill="#1fdcc7"/>
<text x="434.56" y="236.12" font-size="5.4" font-weight="normal" text-anchor="start" fill="#262626" >42.7 %</text>
<rect x="406.70" y="241.30" width="26.50" height="9.6" fill="#21d8a8"/>
<text x="434.50" y="247.93" font-size="5.4" font-weight="normal" text-anchor="start" fill="#262626" >42.6 %</text>
<rect x="406.70" y="253.05" width="25.25" height="9.6" fill="#2ed88d"/>
<text x="433.25" y="259.74" font-size="5.4" font-weight="normal" text-anchor="start" fill="#262626" >40.6 %</text>
<rect x="406.70" y="264.80" width="20.46" height="9.6" fill="#92d97c"/>
<text x="428.46" y="271.55" font-size="5.4" font-weight="normal" text-anchor="start" fill="#262626" >32.9 %</text>
<rect x="406.70" y="276.55" width="20.53" height="9.6" fill="#cacf75"/>
<text x="428.53" y="283.36" font-size="5.4" font-weight="normal" text-anchor="start" fill="#262626" >33 %</text>
<rect x="406.70" y="288.30" width="4.11" height="9.6" fill="#ecc76d"/>
<text x="412.11" y="295.17" font-size="5.4" font-weight="normal" text-anchor="start" fill="#262626" >6.6 %</text>
<rect x="406.70" y="300.05" width="12.94" height="9.6" fill="#fbb975"/>
<text x="420.94" y="306.98" font-size="5.4" font-weight="normal" text-anchor="start" fill="#262626" >20.8 %</text>
<rect x="406.70" y="311.80" width="12.88" height="9.6" fill="#fbb2b2"/>
<text x="420.88" y="318.79" font-size="5.4" font-weight="normal" text-anchor="start" fill="#262626" >20.7 %</text>
<text transform="translate(409.30,325.7) rotate(-90)" font-size="6.2" text-anchor="end" fill="#222" stroke="#222" stroke-width="0.2">0</text>
<text transform="translate(424.85,325.7) rotate(-90)" font-size="6.2" text-anchor="end" fill="#222" stroke="#222" stroke-width="0.2">25</text>
<text transform="translate(440.40,325.7) rotate(-90)" font-size="6.2" text-anchor="end" fill="#222" stroke="#222" stroke-width="0.2">50</text>
<text transform="translate(455.95,325.7) rotate(-90)" font-size="6.2" text-anchor="end" fill="#222" stroke="#222" stroke-width="0.2">75</text>
<text transform="translate(471.50,325.7) rotate(-90)" font-size="6.2" text-anchor="end" fill="#222" stroke="#222" stroke-width="0.2">100</text>
</g>
<g id="panelC">
<text x="8.70" y="344.80" font-size="6.1" font-weight="normal" text-anchor="start" fill="#1a1a1a" stroke="#1a1a1a" stroke-width="0.25">(C)</text>
<defs><radialGradient id="bg1" cx="0.62" cy="0.5" r="0.75"><stop offset="0" stop-color="#2b1608"/><stop offset="1" stop-color="#1a0c04"/></radialGradient>
<radialGradient id="bg2" cx="0.55" cy="0.5" r="0.8"><stop offset="0" stop-color="#2c1c0b"/><stop offset="1" stop-color="#1f1308"/></radialGradient>
<filter id="bl" x="-5%" y="-5%" width="110%" height="110%"><feGaussianBlur stdDeviation="0.3"/></filter></defs>
<svg x="6.5" y="348.6" width="88.2" height="64.5" viewBox="0 0 88.2 64.5" overflow="hidden">
<rect width="88.2" height="64.5" fill="url(#bg1)"/>
<g filter="url(#bl)">
<path d="M0,20.5 H24 C32,20.5 36.5,19.8 39.4,17.4 S42.4,13.6 43.3,12.2 L51.9,0" stroke="#e57e12" stroke-width="1.15" fill="none" opacity="1"/>
<path d="M0,43.8 H24 C32,43.8 37,44.6 40,47 S44,51 46,52.8 L53.4,64.5" stroke="#e57e12" stroke-width="1.15" fill="none" opacity="1"/>
</g>
<path d="M0,16.1 H35 C38,16.1 39,14.5 40,12.6 L49.9,0" stroke="#f4f4f4" stroke-width="0.95" fill="none" stroke-dasharray="2.7 1.5"/>
<path d="M0,47.7 H35 C38.5,47.7 40,50 41.6,53 L49.5,64.5" stroke="#f4f4f4" stroke-width="0.95" fill="none" stroke-dasharray="2.7 1.5"/>
<path d="M63.4,0 L53.2,20.2 Q51.6,23.8 55.5,24 L88.2,24.4" stroke="#f4f4f4" stroke-width="0.95" fill="none" stroke-dasharray="2.7 1.5"/>
<path d="M88.2,39.1 L55.5,39.4 Q51.6,39.6 53.2,43 L63.8,64.5" stroke="#f4f4f4" stroke-width="0.95" fill="none" stroke-dasharray="2.7 1.5"/>
<text transform="translate(1.5,8.1) scale(0.9,1)" font-size="7" font-weight="bold" fill="#fff">0.6 mL.min<tspan font-size="3" dy="-2.8" dx="0.3">-1</tspan></text>
<text transform="translate(0.9,63.4) scale(0.9,1)" font-size="7" font-weight="bold" fill="#fff">10 µm particles</text>
</svg>
<svg x="100.8" y="348.6" width="88.2" height="64.5" viewBox="0 0 88.2 64.5" overflow="hidden">
<rect width="88.2" height="64.5" fill="url(#bg1)"/>
<g filter="url(#bl)">
<path d="M0,20.5 H24 C32,20.5 36.5,19.8 39.4,17.4 S42.4,13.6 43.3,12.2 L51.9,0" stroke="#e57e12" stroke-width="1.15" fill="none" opacity="1"/>
<path d="M0,43.8 H24 C32,43.8 37,44.6 40,47 S44,51 46,52.8 L53.4,64.5" stroke="#e57e12" stroke-width="1.15" fill="none" opacity="1"/>
</g>
<path d="M0,16.1 H35 C38,16.1 39,14.5 40,12.6 L49.9,0" stroke="#f4f4f4" stroke-width="0.95" fill="none" stroke-dasharray="2.7 1.5"/>
<path d="M0,47.7 H35 C38.5,47.7 40,50 41.6,53 L49.5,64.5" stroke="#f4f4f4" stroke-width="0.95" fill="none" stroke-dasharray="2.7 1.5"/>
<path d="M63.4,0 L53.2,20.2 Q51.6,23.8 55.5,24 L88.2,24.4" stroke="#f4f4f4" stroke-width="0.95" fill="none" stroke-dasharray="2.7 1.5"/>
<path d="M88.2,39.1 L55.5,39.4 Q51.6,39.6 53.2,43 L63.8,64.5" stroke="#f4f4f4" stroke-width="0.95" fill="none" stroke-dasharray="2.7 1.5"/>
<text transform="translate(1.5,8.1) scale(0.9,1)" font-size="7" font-weight="bold" fill="#fff">0.7 mL.min<tspan font-size="3" dy="-2.8" dx="0.3">-1</tspan></text>
<text transform="translate(0.9,63.4) scale(0.9,1)" font-size="7" font-weight="bold" fill="#fff">10 µm particles</text>
</svg>
<svg x="196.0" y="348.6" width="88.2" height="64.5" viewBox="0 0 88.2 64.5" overflow="hidden">
<rect width="88.2" height="64.5" fill="url(#bg1)"/>
<g filter="url(#bl)">
<path d="M0,20.5 H24 C32,20.5 36.5,19.8 39.4,17.4 S42.4,13.6 43.3,12.2 L51.9,0" stroke="#e57e12" stroke-width="1.15" fill="none" opacity="1"/>
<path d="M0,43.8 H24 C32,43.8 37,44.6 40,47 S44,51 46,52.8 L53.4,64.5" stroke="#e57e12" stroke-width="1.15" fill="none" opacity="1"/>
<path d="M0,36 H44 C50,36 52,38.2 55,38 C58,37.5 62,37 88.2,36.6" stroke="#86460f" stroke-width="0.9" fill="none"/>
<path d="M0,34 H88.2" stroke="#5a2c0a" stroke-width="0.6" fill="none"/>
</g>
<path d="M0,16.1 H35 C38,16.1 39,14.5 40,12.6 L49.9,0" stroke="#f4f4f4" stroke-width="0.95" fill="none" stroke-dasharray="2.7 1.5"/>
<path d="M0,47.7 H35 C38.5,47.7 40,50 41.6,53 L49.5,64.5" stroke="#f4f4f4" stroke-width="0.95" fill="none" stroke-dasharray="2.7 1.5"/>
<path d="M63.4,0 L53.2,20.2 Q51.6,23.8 55.5,24 L88.2,24.4" stroke="#f4f4f4" stroke-width="0.95" fill="none" stroke-dasharray="2.7 1.5"/>
<path d="M88.2,39.1 L55.5,39.4 Q51.6,39.6 53.2,43 L63.8,64.5" stroke="#f4f4f4" stroke-width="0.95" fill="none" stroke-dasharray="2.7 1.5"/>
<text transform="translate(1.5,8.1) scale(0.9,1)" font-size="7" font-weight="bold" fill="#fff">0.8 mL.min<tspan font-size="3" dy="-2.8" dx="0.3">-1</tspan></text>
<text transform="translate(0.9,63.4) scale(0.9,1)" font-size="7" font-weight="bold" fill="#fff">10 µm particles</text>
</svg>
<svg x="290.7" y="348.6" width="88.2" height="64.5" viewBox="0 0 88.2 64.5" overflow="hidden">
<rect width="88.2" height="64.5" fill="url(#bg2)"/>
<g filter="url(#bl)">
<path d="M0,20.6 H30.4 C40.5,20.6 44.0,18.0 47.4,13.6 L57.6,0" stroke="#e57e12" stroke-width="0.7" fill="none" opacity="0.3"/>
<path d="M0,22.1 H31.4 C41.8,22.1 45.6,19.5 49.1,13.6 L59.3,0" stroke="#e57e12" stroke-width="0.7" fill="none" opacity="0.55"/>
<path d="M0,23.8 H32.4 C43.2,23.8 47.1,21.2 50.8,13.6 L61,0" stroke="#e57e12" stroke-width="0.7" fill="none" opacity="0.4"/>
<path d="M0,26.4 H36 C46,26.4 48,27.2 54,27.2 S 62,27.2 66,27.2 H88.2" stroke="#e57e12" stroke-width="0.7" fill="none" opacity="0.25"/>
<path d="M0,29.1 H36 C46,29.1 48,28.8 54,28.8 S 62,28.8 66,28.8 H88.2" stroke="#e57e12" stroke-width="0.8" fill="none" opacity="0.65"/>
<path d="M0,31 H36 C46,31 48,30.4 54,30.4 S 62,30.4 66,30.4 H88.2" stroke="#e57e12" stroke-width="0.7" fill="none" opacity="0.2"/>
<path d="M0,33.8 H36 C46,33.8 48,33 54,33 S 62,33 66,33 H88.2" stroke="#e57e12" stroke-width="0.7" fill="none" opacity="0.15"/>
<path d="M0,36.4 H36 C46,36.4 48,35.2 54,35.2 S 62,35.2 66,35.2 H88.2" stroke="#e57e12" stroke-width="0.7" fill="none" opacity="0.15"/>
<path d="M0,39.6 H31.6 C43.2,39.6 47.4,42.7 51.2,51.2 L61,64.5" stroke="#e57e12" stroke-width="0.7" fill="none" opacity="0.35"/>
<path d="M0,41.1 H30.5 C41.7,41.1 45.8,44.2 49.4,51.2 L59.2,64.5" stroke="#e57e12" stroke-width="0.7" fill="none" opacity="0.55"/>
<path d="M0,42.6 H29.5 C40.3,42.6 44.2,45.7 47.6,51.2 L57.4,64.5" stroke="#e57e12" stroke-width="0.7" fill="none" opacity="0.4"/>
</g>
<path d="M0,16.1 H35 C38,16.1 39,14.5 40,12.6 L49.9,0" stroke="#f4f4f4" stroke-width="0.95" fill="none" stroke-dasharray="2.7 1.5"/>
<path d="M0,47.7 H35 C38.5,47.7 40,50 41.6,53 L49.5,64.5" stroke="#f4f4f4" stroke-width="0.95" fill="none" stroke-dasharray="2.7 1.5"/>
<path d="M63.4,0 L53.2,20.2 Q51.6,23.8 55.5,24 L88.2,24.4" stroke="#f4f4f4" stroke-width="0.95" fill="none" stroke-dasharray="2.7 1.5"/>
<path d="M88.2,39.1 L55.5,39.4 Q51.6,39.6 53.2,43 L63.8,64.5" stroke="#f4f4f4" stroke-width="0.95" fill="none" stroke-dasharray="2.7 1.5"/>
<text transform="translate(1.5,8.1) scale(0.9,1)" font-size="7" font-weight="bold" fill="#fff">0.9 mL.min<tspan font-size="3" dy="-2.8" dx="0.3">-1</tspan></text>
<text transform="translate(0.9,63.4) scale(0.9,1)" font-size="7" font-weight="bold" fill="#fff">10 µm particles</text>
</svg>
<svg x="385.7" y="348.6" width="88.2" height="64.5" viewBox="0 0 88.2 64.5" overflow="hidden">
<rect width="88.2" height="64.5" fill="url(#bg2)"/>
<g filter="url(#bl)">
<path d="M0,21.5 H28.9 C38.6,21.5 41.9,18.9 45.0,13.6 L55.2,0" stroke="#e57e12" stroke-width="0.8" fill="none" opacity="0.8"/>
<path d="M0,23.3 H30.0 C40.0,23.3 43.5,20.7 46.8,13.6 L57,0" stroke="#e57e12" stroke-width="0.8" fill="none" opacity="0.9"/>
<path d="M0,24.9 H31.1 C41.4,24.9 45.1,22.3 48.6,13.6 L58.8,0" stroke="#e57e12" stroke-width="0.8" fill="none" opacity="0.7"/>
<path d="M0,27.6 H36 C46,27.6 48,27.4 54,27.4 S 62,27.4 66,27.4 H88.2" stroke="#e57e12" stroke-width="0.7" fill="none" opacity="0.6"/>
<path d="M0,30.1 H36 C46,30.1 48,28.8 54,28.8 S 62,28.8 66,28.8 H88.2" stroke="#e57e12" stroke-width="0.9" fill="none" opacity="0.9"/>
<path d="M0,32.6 H36 C46,32.6 48,31.2 54,31.2 S 62,31.2 66,31.2 H88.2" stroke="#e57e12" stroke-width="0.8" fill="none" opacity="0.8"/>
<path d="M0,34.9 H36 C46,34.9 48,38.0 54,38.0 S 62,37.2 66,37.2 H88.2" stroke="#e57e12" stroke-width="0.9" fill="none" opacity="0.85"/>
<path d="M0,33.8 H36 C46,33.8 48,34 54,34 S 62,34 66,34 H88.2" stroke="#e57e12" stroke-width="0.7" fill="none" opacity="0.4"/>
<path d="M0,28.9 H36 C46,28.9 48,30 54,30 S 62,30 66,30 H88.2" stroke="#e57e12" stroke-width="0.7" fill="none" opacity="0.4"/>
<path d="M0,36.8 H32.1 C43.8,36.8 48.1,39.9 52.0,51.2 L61.8,64.5" stroke="#e57e12" stroke-width="0.8" fill="none" opacity="0.75"/>
<path d="M0,38.6 H31.0 C42.4,38.6 46.5,41.7 50.2,51.2 L60,64.5" stroke="#e57e12" stroke-width="0.8" fill="none" opacity="0.8"/>
<path d="M0,40.2 H30.0 C41.0,40.2 45.0,43.3 48.5,51.2 L58.3,64.5" stroke="#e57e12" stroke-width="0.7" fill="none" opacity="0.5"/>
</g>
<path d="M0,16.1 H35 C38,16.1 39,14.5 40,12.6 L49.9,0" stroke="#f4f4f4" stroke-width="0.95" fill="none" stroke-dasharray="2.7 1.5"/>
<path d="M0,47.7 H35 C38.5,47.7 40,50 41.6,53 L49.5,64.5" stroke="#f4f4f4" stroke-width="0.95" fill="none" stroke-dasharray="2.7 1.5"/>
<path d="M63.4,0 L53.2,20.2 Q51.6,23.8 55.5,24 L88.2,24.4" stroke="#f4f4f4" stroke-width="0.95" fill="none" stroke-dasharray="2.7 1.5"/>
<path d="M88.2,39.1 L55.5,39.4 Q51.6,39.6 53.2,43 L63.8,64.5" stroke="#f4f4f4" stroke-width="0.95" fill="none" stroke-dasharray="2.7 1.5"/>
<text transform="translate(1.5,8.1) scale(0.9,1)" font-size="7" font-weight="bold" fill="#fff">1.0 mL.min<tspan font-size="3" dy="-2.8" dx="0.3">-1</tspan></text>
<text transform="translate(0.9,63.4) scale(0.9,1)" font-size="7" font-weight="bold" fill="#fff">10 µm particles</text>
</svg>
</g>
<g id="panelD">
<text x="8.70" y="424.70" font-size="6.1" font-weight="normal" text-anchor="start" fill="#1a1a1a" stroke="#1a1a1a" stroke-width="0.25">(D)</text>
<text x="264.60" y="424.50" font-size="7.8" font-weight="bold" text-anchor="middle" fill="#111" >Separation Efficiency</text>
<text x="76.80" y="446.09" font-size="6.28" font-weight="bold" text-anchor="end" fill="#111" stroke="#111" stroke-width="0.12">20 µm beads, doublets</text>
<text x="76.80" y="457.28" font-size="6.28" font-weight="bold" text-anchor="end" fill="#111" stroke="#111" stroke-width="0.12">20 µm beads, singlets</text>
<text x="76.80" y="468.47" font-size="6.28" font-weight="bold" text-anchor="end" fill="#111" stroke="#111" stroke-width="0.12">20 µm beads</text>
<text x="76.80" y="479.66" font-size="6.28" font-weight="bold" text-anchor="end" fill="#111" stroke="#111" stroke-width="0.12">15 µm beads, doublets</text>
<text x="76.80" y="490.85" font-size="6.28" font-weight="bold" text-anchor="end" fill="#111" stroke="#111" stroke-width="0.12">15 µm beads, singlets</text>
<text x="76.80" y="502.04" font-size="6.28" font-weight="bold" text-anchor="end" fill="#111" stroke="#111" stroke-width="0.12">15 µm beads</text>
<text x="76.80" y="513.23" font-size="6.28" font-weight="bold" text-anchor="end" fill="#111" stroke="#111" stroke-width="0.12">10 µm beads, doublets</text>
<text x="76.80" y="524.42" font-size="6.28" font-weight="bold" text-anchor="end" fill="#111" stroke="#111" stroke-width="0.12">10 µm beads, singlets</text>
<text x="76.80" y="535.61" font-size="6.28" font-weight="bold" text-anchor="end" fill="#111" stroke="#111" stroke-width="0.12">10 µm beads</text>
<rect x="78.3" y="437.5" width="121.80" height="100.70" fill="#e9f5fd" stroke="#8a8a8a" stroke-width="0.6"/>
<rect x="98.05" y="437.8" width="0.4" height="100.10" fill="#d4e6f2"/>
<rect x="136.95" y="437.8" width="0.4" height="100.10" fill="#d4e6f2"/>
<rect x="175.85" y="437.8" width="0.4" height="100.10" fill="#d4e6f2"/>
<text x="78.10" y="434.10" font-size="6.1" font-weight="bold" text-anchor="start" fill="#111" >10 µm</text>
<text x="78.80" y="545.70" font-size="5.85" font-weight="bold" text-anchor="middle" fill="#111" >0</text>
<text x="117.70" y="545.70" font-size="5.85" font-weight="bold" text-anchor="middle" fill="#111" >10</text>
<text x="156.60" y="545.70" font-size="5.85" font-weight="bold" text-anchor="middle" fill="#111" >20</text>
<text x="195.50" y="545.70" font-size="5.85" font-weight="bold" text-anchor="middle" fill="#111" >30</text>
<rect x="212.3" y="437.5" width="122.20" height="100.70" fill="#e9f5fd" stroke="#8a8a8a" stroke-width="0.6"/>
<rect x="246.50" y="437.8" width="0.4" height="100.10" fill="#d4e6f2"/>
<rect x="281.50" y="437.8" width="0.4" height="100.10" fill="#d4e6f2"/>
<rect x="316.50" y="437.8" width="0.4" height="100.10" fill="#d4e6f2"/>
<text x="212.10" y="434.10" font-size="6.1" font-weight="bold" text-anchor="start" fill="#111" >15 µm</text>
<text x="229.20" y="545.70" font-size="5.85" font-weight="bold" text-anchor="middle" fill="#111" >70</text>
<text x="264.20" y="545.70" font-size="5.85" font-weight="bold" text-anchor="middle" fill="#111" >80</text>
<text x="299.20" y="545.70" font-size="5.85" font-weight="bold" text-anchor="middle" fill="#111" >90</text>
<text x="336.90" y="545.70" font-size="5.85" font-weight="bold" text-anchor="end" fill="#111" >100</text>
<rect x="346.5" y="437.5" width="122.00" height="100.70" fill="#e9f5fd" stroke="#8a8a8a" stroke-width="0.6"/>
<rect x="361.62" y="437.8" width="0.4" height="100.10" fill="#d4e6f2"/>
<rect x="391.38" y="437.8" width="0.4" height="100.10" fill="#d4e6f2"/>
<rect x="421.12" y="437.8" width="0.4" height="100.10" fill="#d4e6f2"/>
<rect x="450.88" y="437.8" width="0.4" height="100.10" fill="#d4e6f2"/>
<text x="346.30" y="434.10" font-size="6.1" font-weight="bold" text-anchor="start" fill="#111" >20 µm</text>
<text x="376.70" y="545.70" font-size="5.85" font-weight="bold" text-anchor="middle" fill="#111" >92.5</text>
<text x="406.45" y="545.70" font-size="5.85" font-weight="bold" text-anchor="middle" fill="#111" >95.0</text>
<text x="436.20" y="545.70" font-size="5.85" font-weight="bold" text-anchor="middle" fill="#111" >97.5</text>
<text x="470.60" y="545.70" font-size="5.85" font-weight="bold" text-anchor="end" fill="#111" >100</text>
<path d="M173.50,510.68 H182.30 M193.00,510.68 H194.80" stroke="#555" stroke-width="0.55" fill="none"/>
<rect x="182.30" y="506.48" width="10.70" height="8.4" fill="#b7d66b" stroke="#555" stroke-width="0.5"/>
<rect x="189.70" y="506.48" width="0.8" height="8.4" fill="#3a3a3a"/>
<path d="M83.60,521.87 H84.10 M86.30,521.87 H86.60" stroke="#555" stroke-width="0.55" fill="none"/>
<rect x="84.10" y="517.87" width="2.20" height="8" fill="#e9b94e" stroke="#555" stroke-width="0.5"/>
<rect x="84.80" y="517.87" width="0.8" height="8" fill="#3a3a3a"/>
<path d="M85.60,533.06 H86.10 M88.40,533.06 H88.80" stroke="#555" stroke-width="0.55" fill="none"/>
<rect x="86.10" y="529.06" width="2.30" height="8" fill="#e87878" stroke="#555" stroke-width="0.5"/>
<rect x="86.80" y="529.06" width="0.8" height="8" fill="#3a3a3a"/>
<path d="M217.50,477.11 H233.00 M249.60,477.11 H249.60" stroke="#555" stroke-width="0.55" fill="none"/>
<rect x="233.00" y="472.91" width="16.60" height="8.4" fill="#22d3ee" stroke="#555" stroke-width="0.5"/>
<rect x="247.90" y="472.91" width="0.8" height="8.4" fill="#3a3a3a"/>
<path d="M315.20,488.30 H317.20 M324.80,488.30 H328.90" stroke="#555" stroke-width="0.55" fill="none"/>
<rect x="317.20" y="484.10" width="7.60" height="8.4" fill="#1fd3c1" stroke="#555" stroke-width="0.5"/>
<rect x="319.10" y="484.10" width="0.8" height="8.4" fill="#3a3a3a"/>
<path d="M315.00,499.49 H317.20 M324.80,499.49 H329.00" stroke="#555" stroke-width="0.55" fill="none"/>
<rect x="317.20" y="495.29" width="7.60" height="8.4" fill="#22cf8c" stroke="#555" stroke-width="0.5"/>
<rect x="319.10" y="495.29" width="0.8" height="8.4" fill="#3a3a3a"/>
<path d="M351.60,443.54 H392.40 M448.90,443.54 H463.40" stroke="#555" stroke-width="0.55" fill="none"/>
<rect x="392.40" y="439.34" width="56.50" height="8.4" fill="#f9a8d8" stroke="#555" stroke-width="0.5"/>
<rect x="433.60" y="439.34" width="0.8" height="8.4" fill="#3a3a3a"/>
<path d="M435.30,454.73 H438.60 M448.30,454.73 H452.80" stroke="#555" stroke-width="0.55" fill="none"/>
<rect x="438.60" y="450.53" width="9.70" height="8.4" fill="#f8aaf0" stroke="#555" stroke-width="0.5"/>
<rect x="442.50" y="450.53" width="0.8" height="8.4" fill="#3a3a3a"/>
<path d="M429.30,465.92 H436.20 M447.70,465.92 H452.20" stroke="#555" stroke-width="0.55" fill="none"/>
<rect x="436.20" y="461.72" width="11.50" height="8.4" fill="#a9c9f8" stroke="#555" stroke-width="0.5"/>
<rect x="443.40" y="461.72" width="0.8" height="8.4" fill="#3a3a3a"/>
</g>
</svg></body></html>
